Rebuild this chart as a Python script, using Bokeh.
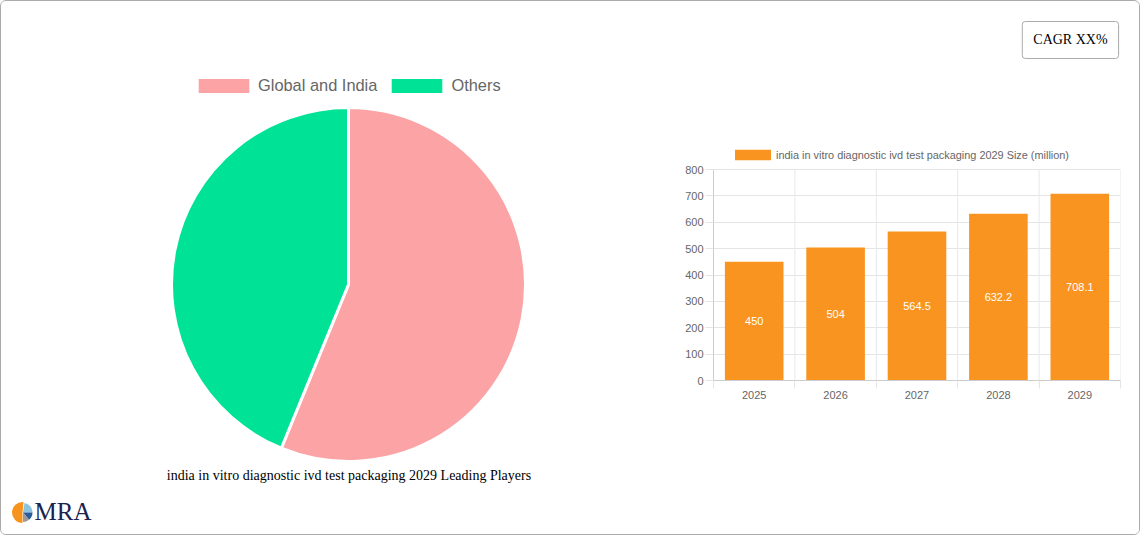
import numpy as np
from bokeh.core.properties import value
from bokeh.embed import file_html
from bokeh.layouts import column, row
from bokeh.models import ColumnDataSource, FixedTicker, Label, LabelSet, Legend, LegendItem, Range1d
from bokeh.plotting import figure
from bokeh.resources import INLINE

# Pie data
pie_labels = ["Global and India", "Others"]
pie_values = [56.2, 43.8]
pie_colors = ["#fca3a5", "#00e396"]
pie_title = "india in vitro diagnostic ivd test packaging 2029 Leading Players"

# Bar data
years = ["2025", "2026", "2027", "2028", "2029"]
sizes = [450, 504, 564.5, 632.2, 708.1]
size_labels = ["450", "504", "564.5", "632.2", "708.1"]
bar_name = "india in vitro diagnostic ivd test packaging 2029 Size (million)"
y_ticks = [0, 100, 200, 300, 400, 500, 600, 700, 800]

SANS = "Liberation Sans"
SERIF = "Liberation Serif"
GREY = "#666666"
PIE_W = 660
BAR_W = 478
H = 533

# Left figure: 1 data unit is 1 pixel, y measured upwards
pie = figure(width=PIE_W, height=H, x_range=Range1d(0, PIE_W), y_range=Range1d(0, H),
             output_backend="svg", toolbar_location=None, min_border=0,
             background_fill_color="white", outline_line_color=None)
pie.axis.visible = False
pie.grid.visible = False

turns = np.cumsum([0] + pie_values) / sum(pie_values) * 2 * np.pi
pie_src = ColumnDataSource(dict(
    label=pie_labels,
    color=pie_colors,
    start=np.pi / 2 - turns[:-1],
    end=np.pi / 2 - turns[1:],
))
slices = pie.wedge(x=347, y=H - 283, radius=177, start_angle="start", end_angle="end",
                   direction="clock", fill_color="color", line_color="white", line_width=3,
                   source=pie_src)

# legend glyphs lose 10% per side plus the white stroke, so they are asked bigger
pie_legend = Legend(
    items=[LegendItem(label=lab, renderers=[slices], index=i) for i, lab in enumerate(pie_labels)],
    orientation="horizontal", location=(189, H - 95),
    glyph_width=67, glyph_height=21, label_standoff=1, spacing=6,
    label_text_font=SANS, label_text_font_size="16.4px", label_text_color=GREY,
    background_fill_alpha=0, border_line_color=None, margin=0, padding=0,
)
pie.add_layout(pie_legend)

pie.add_layout(Label(x=347.5, y=H - 474, text=pie_title, text_align="center", text_baseline="middle",
                     text_font=SERIF, text_font_size="14px", text_color="black"))

# MRA logo
logo_x, logo_y = 21, H - 511
pie.wedge(x=logo_x, y=logo_y, radius=10.5, start_angle=np.pi * 0.47, end_angle=np.pi * 1.5,
          direction="anticlock", fill_color="#f7941d", line_color=None)
pie.wedge(x=logo_x + 0.5, y=logo_y, radius=9.5, start_angle=0, end_angle=np.pi * 0.45,
          direction="anticlock", fill_color="#8cc4e0", line_color=None)
pie.wedge(x=logo_x + 0.5, y=logo_y, radius=9.5, start_angle=np.pi * 1.72, end_angle=0,
          direction="anticlock", fill_color="#2a5d9c", line_color=None)
pie.wedge(x=logo_x + 0.5, y=logo_y, radius=9.5, start_angle=np.pi * 1.5, end_angle=np.pi * 1.72,
          direction="anticlock", fill_color="#9a9a9a", line_color=None)
pie.add_layout(Label(x=33, y=H - 510, text="MRA", text_baseline="middle", text_font=SERIF,
                     text_font_size="25px", text_color="#1b2350"))

# Right figure: bars. The y range runs on past 800 to leave room for legend and CAGR box
centers = [i + 0.5 for i in range(len(years))]
edges = list(range(len(years) + 1))
bar_src = ColumnDataSource(dict(x=centers, top=sizes, mid=[s / 2 for s in sizes], txt=size_labels))

bar = figure(width=BAR_W, height=H, x_range=Range1d(0, 5), y_range=Range1d(0, 800 * 379 / 211),
             output_backend="svg", toolbar_location=None,
             min_border_left=52, min_border_right=19, min_border_top=0, min_border_bottom=154,
             outline_line_color=None)
# vertical grid stops at the top tick, a Grid would run to the end of the range
bar.segment(x0=edges, y0=y_ticks[0], x1=edges, y1=y_ticks[-1], line_color="#e8e8e8")
bars = bar.vbar(x="x", top="top", width=0.72, bottom=0, fill_color="#fa9420", line_color=None, source=bar_src)

bar.xaxis.ticker = FixedTicker(ticks=centers, minor_ticks=edges)
bar.xaxis.major_label_overrides = {c: y for c, y in zip(centers, years)}
bar.xaxis.major_tick_line_color = None
bar.xaxis.minor_tick_out = 8
bar.xaxis.minor_tick_in = 0
bar.xaxis.minor_tick_line_color = "#e5e5e5"
bar.xaxis.major_label_standoff = 2
bar.yaxis.ticker = FixedTicker(ticks=y_ticks)
bar.yaxis.bounds = (0, 800)
bar.yaxis.minor_tick_line_color = None
bar.yaxis.major_tick_out = 8
bar.yaxis.major_tick_in = 0
bar.yaxis.major_tick_line_color = "#e5e5e5"
bar.yaxis.major_label_standoff = 2
bar.axis.axis_line_color = "#cccccc"
bar.axis.major_label_text_font = SANS
bar.axis.major_label_text_font_size = "11px"
bar.axis.major_label_text_color = GREY
bar.xgrid.visible = False
bar.ygrid.ticker = FixedTicker(ticks=y_ticks)
bar.ygrid.grid_line_color = "#e5e5e5"

bar.add_layout(LabelSet(x="x", y="mid", text="txt", source=bar_src, text_align="center",
                        text_baseline="middle", text_font=value(SANS), text_font_size="11px",
                        text_color="white"))

bar_legend = Legend(
    items=[LegendItem(label=bar_name, renderers=[bars])],
    location=(17, 219), glyph_width=45, glyph_height=13, label_standoff=1,
    label_text_font=SANS, label_text_font_size="10.9px", label_text_color=GREY,
    background_fill_alpha=0, border_line_color=None, margin=0, padding=0,
)
bar.add_layout(bar_legend)

bar.add_layout(Label(x=4.385, y=1291, text="CAGR XX%",
                     text_align="center", text_baseline="middle", text_font=SERIF,
                     text_font_size="14px", text_color="black", padding=11,
                     border_line_color="#aaaaaa", border_radius=3))

p = row(column(pie), column(bar),
        styles={"border": "1px solid #aaaaaa", "border-radius": "6px", "overflow": "hidden"})

open("out.html", "w").write(file_html(p, INLINE))
